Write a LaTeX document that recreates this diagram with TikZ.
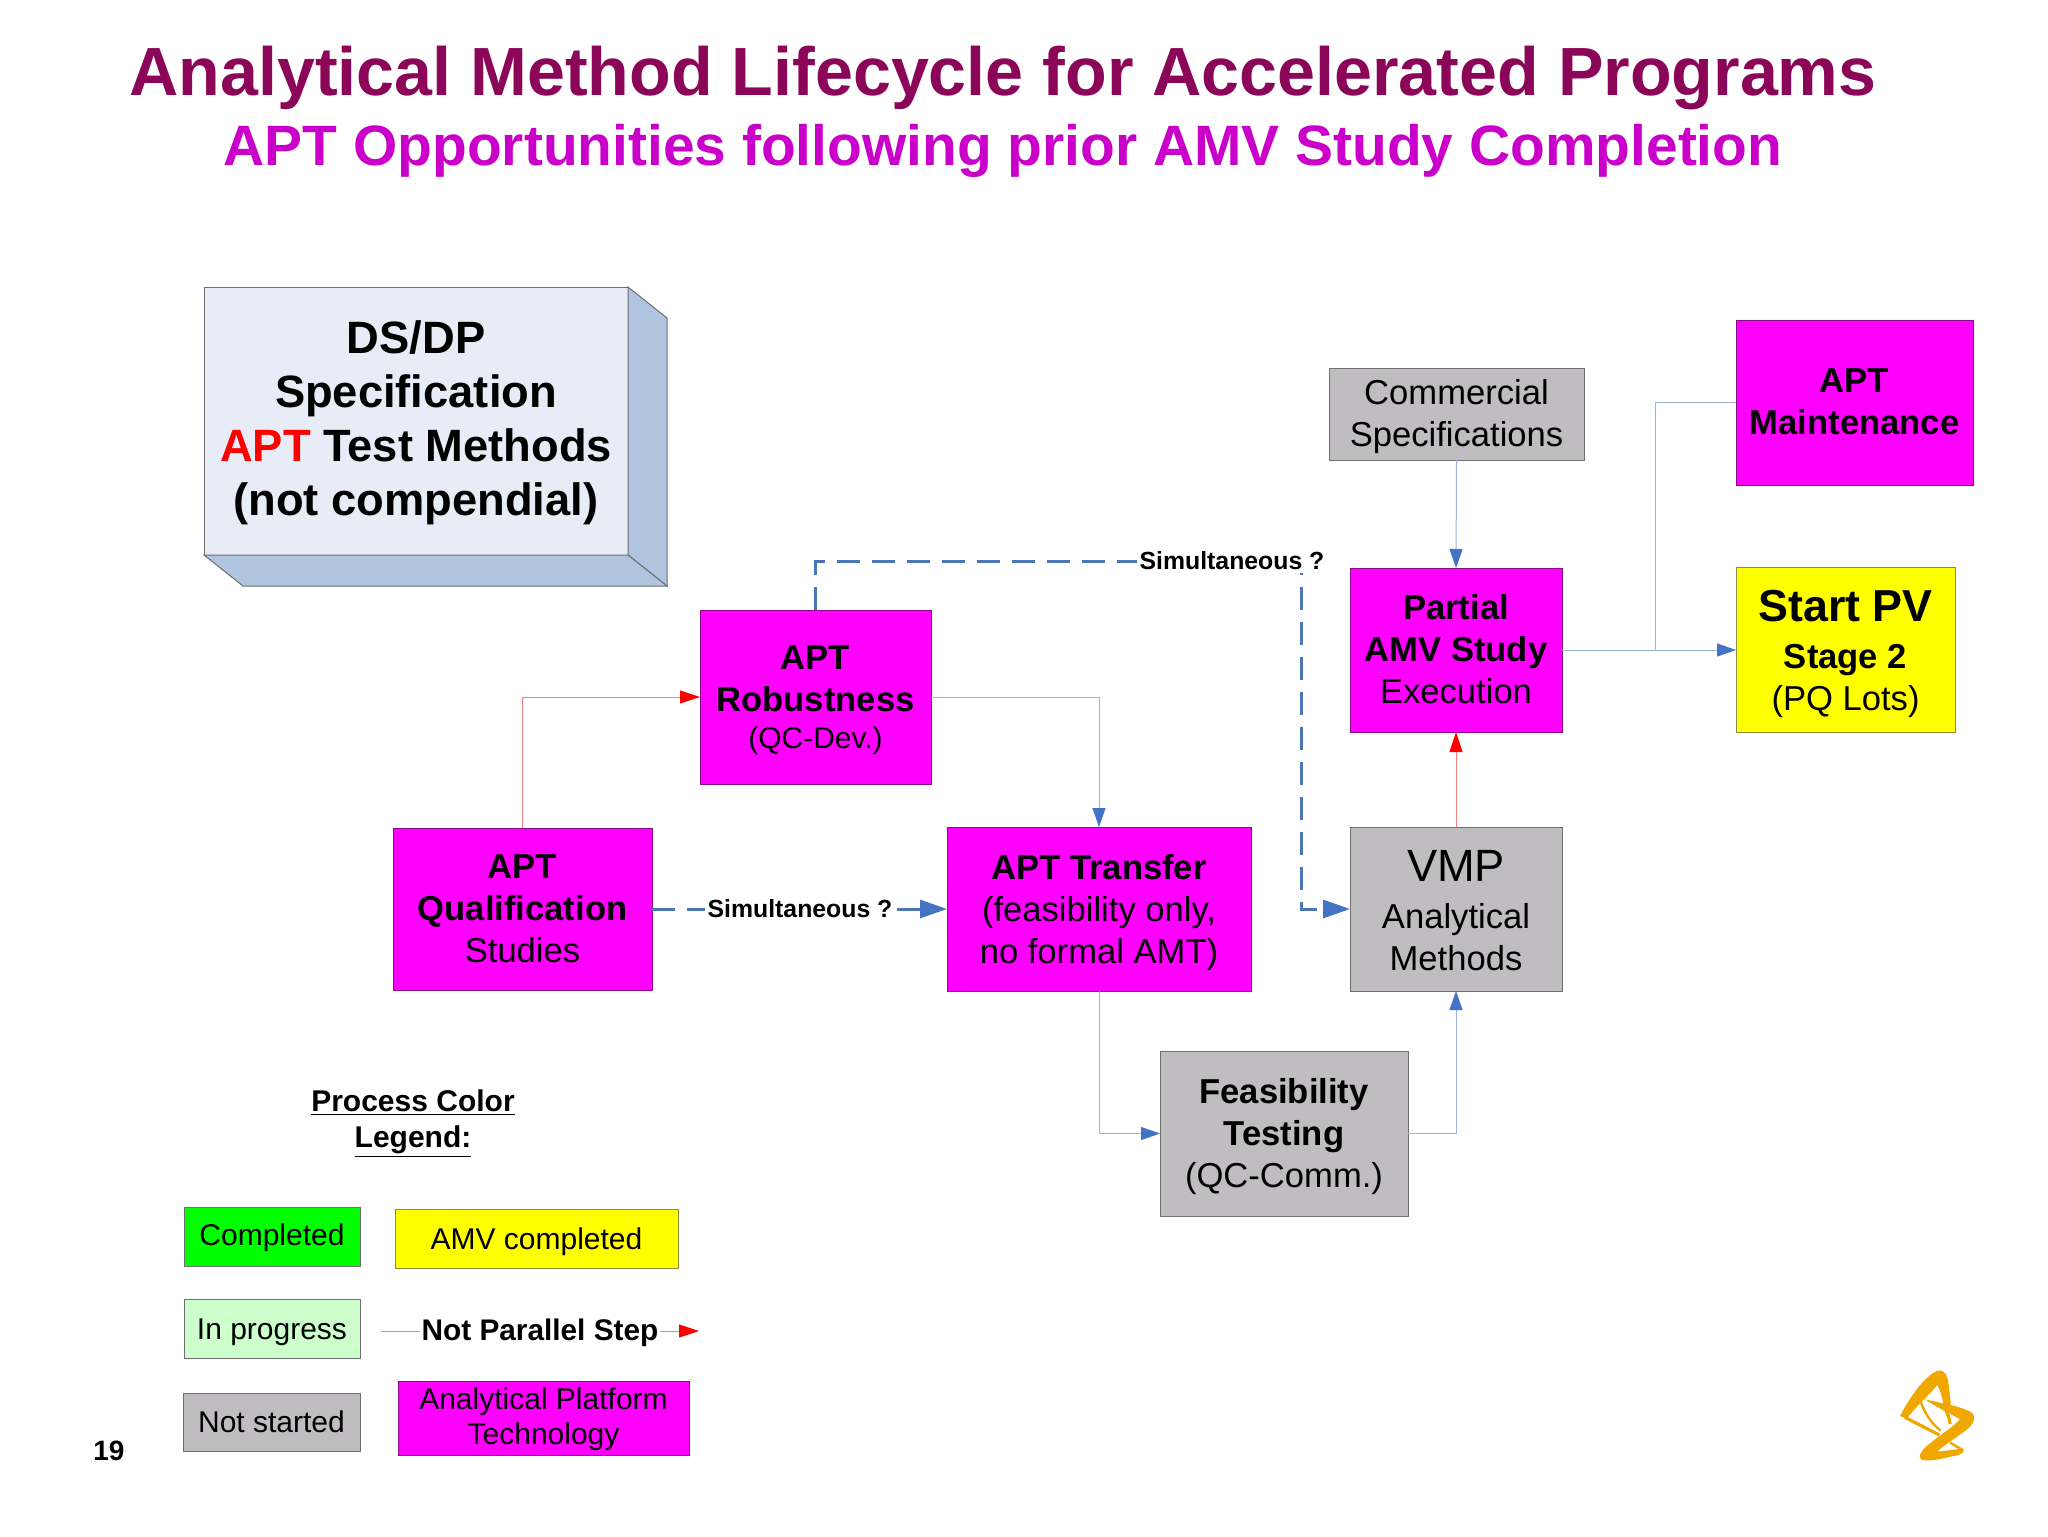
\documentclass[tikz,border=0pt]{standalone}
\usepackage{fontspec}
\setmainfont{Liberation Sans}
\usetikzlibrary{arrows.meta}
\definecolor{magbox}{HTML}{FF00FF}
\definecolor{magedge}{HTML}{8A0A8A}
\definecolor{graybox}{HTML}{BFBDC0}
\definecolor{grayedge}{HTML}{6E6E6E}
\definecolor{linkblue}{HTML}{9DB5DE}
\definecolor{tipblue}{HTML}{4472C4}
\definecolor{dashblue}{HTML}{4A76B8}
\definecolor{linkred}{HTML}{F08080}
\definecolor{frontface}{HTML}{E8ECF6}
\definecolor{sideface}{HTML}{B0C4E0}
\definecolor{titlecol}{HTML}{8B0658}
\definecolor{subcol}{HTML}{CA00CA}
\definecolor{azgold}{HTML}{F0A800}
\definecolor{pureyellow}{HTML}{FFFF00}
\definecolor{puregreen}{HTML}{00FF00}
\definecolor{palegreen}{HTML}{CCFFCC}
\definecolor{yellowedge}{HTML}{8C8C40}
\newcommand{\fbig}{\fontsize{17.3}{21}\selectfont}
\newcommand{\fleg}{\fontsize{15}{17.5}\selectfont}
\newcommand{\tophold}[1]{\rule{0pt}{#1pt}}
\newcommand{\lowhold}[1]{\rule[-#1pt]{0pt}{1pt}}
\tikzset{
  box/.style={draw=#1,line width=0.5pt,inner sep=0pt,outer sep=0pt,align=center,text=black},
  magnode/.style={box=magedge,fill=magbox,font=\fbig},
  graynode/.style={box=grayedge,fill=graybox,font=\fbig},
  yellownode/.style={box=yellowedge,fill=pureyellow,font=\fbig},
  bluelink/.style={draw=linkblue,line width=0.5pt,-{Triangle[length=9.5pt,width=6.5pt,color=tipblue,fill=tipblue]}},
  redlink/.style={draw=linkred,line width=0.5pt,-{Triangle[length=10pt,width=6.5pt,color=red,fill=red]}},
  dashlink/.style={draw=dashblue,line width=1.5pt,dash pattern=on 11.5pt off 6pt,-{Triangle[length=13.5pt,width=9pt,color=tipblue,fill=tipblue]}},
  simlabel/.style={fill=white,inner sep=1.5pt,font=\fontsize{12.4}{14}\selectfont\bfseries},
}
\begin{document}
\begin{tikzpicture}[x=0.5pt,y=-0.5pt]
\useasboundingbox (0,0) rectangle (2048,1536);
\fill[white] (0,0) rectangle (2048,1536);

\node[text=titlecol,font=\fontsize{34.1}{40}\selectfont\bfseries,inner sep=0pt] (title) at (1003,78) {Analytical Method Lifecycle for Accelerated Programs};
\node[text=subcol,font=\fontsize{28.45}{34}\selectfont\bfseries,inner sep=0pt] (subtitle) at (1003,151) {APT Opportunities following prior AMV Study Completion};

% 3-D specification block
\node[box=grayedge,fill=frontface,minimum width=212pt,minimum height=134pt,font=\fontsize{22.65}{27}\selectfont\bfseries] (ds) at (416,421)
  {\tophold{18}DS/DP\\Specification\\\textcolor{red}{APT} Test Methods\\(not compendial)};
\draw[grayedge,line width=0.5pt,fill=sideface] (ds.north east) -- ++(39,31) -- ++(0,268) -- (ds.south east) -- cycle;
\draw[grayedge,line width=0.5pt,fill=sideface] (ds.south west) -- ++(39,31) -- ++(424,0) -- (ds.south east) -- cycle;

% Process boxes
\node[magnode,minimum width=115.5pt,minimum height=87pt] (rob) at (815.5,697)
  {\tophold{15.1}\textbf{APT}\\\textbf{Robustness}\\[-2.6pt]{\fontsize{15}{21}\selectfont (QC-Dev.)}};
\node[magnode,minimum width=129.5pt,minimum height=81pt] (qual) at (522.5,909)
  {\textbf{APT}\\\textbf{Qualification}\\Studies};
\node[magnode,minimum width=152pt,minimum height=82pt] (trans) at (1099,909)
  {\tophold{16.5}\textbf{APT Transfer}\\(feasibility only,\\no formal AMT)};
\node[graynode,minimum width=106pt,minimum height=82pt] (vmp) at (1456,909)
  {\tophold{17.3}{\fontsize{22.6}{25}\selectfont VMP}\\[2.3pt]Analytical\\Methods};
\node[magnode,minimum width=106pt,minimum height=82pt] (amv) at (1456,650)
  {\textbf{Partial}\\\textbf{AMV Study}\\Execution\lowhold{1.3}};
\node[graynode,minimum width=127.5pt,minimum height=46pt] (comm) at (1456.5,414)
  {\tophold{15.1}Commercial\\Specifications};
\node[magnode,minimum width=118.5pt,minimum height=82.5pt] (maint) at (1854.5,402.5)
  {\textbf{APT}\\\textbf{Maintenance}\lowhold{1.3}};
\node[yellownode,minimum width=109.5pt,minimum height=82.5pt] (pv) at (1845.5,650)
  {\tophold{19.6}{\fontsize{22.4}{25}\selectfont\bfseries Start PV}\\[2.3pt]\textbf{Stage 2}\\(PQ Lots)};
\node[graynode,minimum width=124pt,minimum height=82.5pt] (feas) at (1284,1133.5)
  {\tophold{15.1}\textbf{Feasibility}\\\textbf{Testing}\\(QC-Comm.)};

% Connectors
\draw[redlink] (qual.north) |- (rob.west);
\draw[bluelink] (rob.east) -| (trans.north);
\draw[bluelink] (trans.south) |- (feas.west);
\draw[bluelink] (feas.east) -| (vmp.south);
\draw[redlink] (vmp.north) -- (amv.south);
\draw[bluelink] (comm.south) -- (amv.north);
\draw[bluelink] (amv.east) -- (pv.west);
\coordinate (join) at (1655,650);
\draw[draw=linkblue,line width=0.5pt] (maint.west) -| (join);

% Dashed links with their labels
\coordinate (bend) at (1301,561);
\draw[dashlink] (rob.north) |- (bend) |- (vmp.west);
\node[simlabel] (sima) at (1232,561) {Simultaneous ?};
\draw[dashlink] (qual.east) -- (trans.west);
\node[simlabel] (simb) at (800,909) {Simultaneous ?};

% Legend
\node[font=\fontsize{15}{18}\selectfont\bfseries,align=center,inner sep=0pt] (legtitle) at (413,1124) {\underline{Process Color}\\[0pt]\underline{Legend:}};
\node[box=grayedge,fill=puregreen,minimum width=88pt,minimum height=29.5pt,font=\fleg] (lgdone) at (272,1236.5) {\tophold{12.3}Completed};
\node[box=yellowedge,fill=pureyellow,minimum width=141.5pt,minimum height=29.5pt,font=\fleg] (lgamv) at (536.5,1238.5) {\tophold{13.6}AMV completed};
\node[box=grayedge,fill=palegreen,minimum width=88pt,minimum height=29.5pt,font=\fleg] (lgprog) at (272,1328.5) {\tophold{13.6}In progress};
\node[box=grayedge,fill=graybox,minimum width=88.5pt,minimum height=29pt,font=\fleg] (lgnot) at (271.5,1422) {Not started};
\node[box=magedge,fill=magbox,minimum width=145.5pt,minimum height=37pt,font=\fleg] (lgapt) at (543.5,1418) {\tophold{12.3}Analytical Platform\\Technology};
\coordinate (lgfrom) at (381,1331);
\coordinate (lgto) at (699,1331);
\draw[redlink] (lgfrom) -- (lgto);
\node[fill=white,inner sep=1pt,font=\fontsize{14.9}{18}\selectfont\bfseries] (lgstep) at (540,1333) {Not Parallel Step};

\node[font=\fontsize{14}{16}\selectfont\bfseries,inner sep=0pt] (page) at (109,1451) {19};

% Logo
\begin{scope}[shift={(1850,1320)},x=0.16667pt,y=-0.16667pt]
\fill[azgold] (150,288) .. controls (175,240) and (220,170) .. (262,152)
  .. controls (285,148) and (292,165) .. (296,195)
  .. controls (300,225) and (302,240) .. (302,262) -- (280,250)
  .. controls (276,230) and (270,210) .. (262,195)
  .. controls (245,215) and (225,235) .. (205,255)
  -- (170,295) -- cycle;
\fill[azgold] (225,238) .. controls (280,250) and (345,262) .. (368,280)
  .. controls (382,300) and (360,325) .. (335,340)
  .. controls (300,365) and (270,385) .. (262,395)
  .. controls (290,392) and (320,388) .. (340,385)
  .. controls (345,395) and (335,405) .. (310,408)
  .. controls (280,415) and (240,425) .. (215,420)
  .. controls (200,410) and (215,390) .. (240,370)
  .. controls (270,345) and (310,320) .. (330,298)
  .. controls (300,280) and (260,262) .. (225,238) -- cycle;
\draw[azgold,line width=1.6pt] (165,292) -- (268,345);
\draw[azgold,line width=1.2pt] (212,245) .. controls (225,285) and (250,315) .. (272,332);
\draw[azgold,line width=1.6pt] (280,255) .. controls (290,275) and (298,290) .. (300,312);
\draw[azgold,line width=1.2pt] (300,368) -- (335,388);
\end{scope}
\end{tikzpicture}
\end{document}
